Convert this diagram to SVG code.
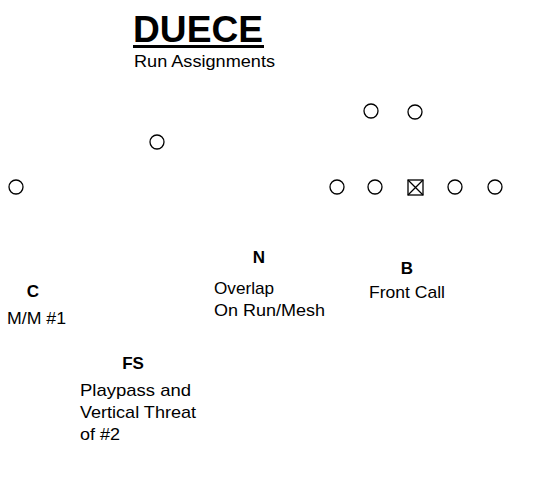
<svg xmlns="http://www.w3.org/2000/svg" width="542" height="480" viewBox="0 0 542 480">
<style>
.p{fill:none;stroke:#000;stroke-width:1.3}
.t{font-family:"Liberation Sans",Arial,sans-serif;font-size:17px;fill:#000}
.b{font-family:"Liberation Sans",Arial,sans-serif;font-size:17px;font-weight:bold;fill:#000;text-anchor:middle}
</style>
<rect width="542" height="480" fill="#fff"/>
<g id="title">
<text x="133" y="42" style="font-family:'Liberation Sans',Arial,sans-serif;font-size:36px;font-weight:bold" textLength="130" lengthAdjust="spacingAndGlyphs">DUECE</text>
<rect x="133" y="45" width="131" height="3" fill="#000"/>
<text class="t" x="134" y="67" textLength="141" lengthAdjust="spacingAndGlyphs">Run Assignments</text>
</g>
<g id="players">
<circle class="p" cx="371" cy="111" r="7"/>
<circle class="p" cx="415" cy="112" r="7"/>
<circle class="p" cx="157" cy="142" r="7"/>
<circle class="p" cx="16" cy="187" r="7"/>
<circle class="p" cx="337" cy="187" r="7"/>
<circle class="p" cx="375" cy="187" r="7"/>
<g id="center"><rect class="p" x="408" y="180" width="15" height="15"/><path class="p" d="M408 180L423 195M423 180L408 195"/></g>
<circle class="p" cx="455" cy="187" r="7"/>
<circle class="p" cx="495" cy="187" r="7"/>
</g>
<g id="n"><text class="b" x="259" y="263">N</text><text class="t" x="214" y="294" textLength="60" lengthAdjust="spacingAndGlyphs">Overlap</text><text class="t" x="214" y="316" textLength="111" lengthAdjust="spacingAndGlyphs">On Run/Mesh</text></g>
<g id="b"><text class="b" x="407" y="274">B</text><text class="t" x="369" y="298" textLength="76" lengthAdjust="spacingAndGlyphs">Front Call</text></g>
<g id="c"><text class="b" x="33" y="297">C</text><text class="t" x="7" y="324" textLength="59" lengthAdjust="spacingAndGlyphs">M/M #1</text></g>
<g id="fs"><text class="b" x="133" y="369">FS</text><text class="t" x="80" y="396" textLength="111" lengthAdjust="spacingAndGlyphs">Playpass and</text><text class="t" x="80" y="418" textLength="116" lengthAdjust="spacingAndGlyphs">Vertical Threat</text><text class="t" x="80" y="440" textLength="40" lengthAdjust="spacingAndGlyphs">of #2</text></g>
<g id="connectors"></g>
</svg>
